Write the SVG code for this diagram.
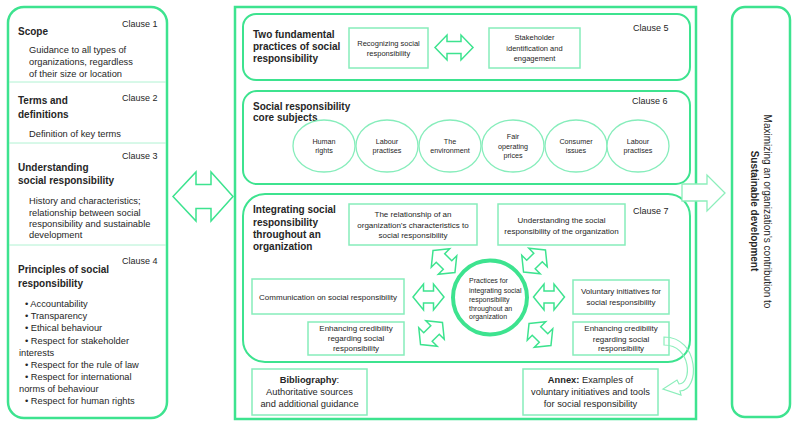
<svg xmlns="http://www.w3.org/2000/svg" xmlns:xlink="http://www.w3.org/1999/xlink" width="800" height="427" viewBox="0 0 800 427">
<style>
.main{fill:none;stroke:#3de38f;stroke-width:2.5}
.cl{fill:none;stroke:#3de38f;stroke-width:2}
.box{fill:#fff;stroke:#86edbb;stroke-width:1.5}
.ell{fill:#fff;stroke:#86edbb;stroke-width:1.3}
.arr{fill:#fff;stroke:#3de38f;stroke-width:1.5}
.thin{fill:none;stroke:#8ceebb;stroke-width:1.2}
.div{stroke:#b0f2d2;stroke-width:1}
text{font-family:"Liberation Sans",Arial,sans-serif;fill:#262626}
.h{font-weight:bold;font-size:10px}
.b{font-size:9.3px}
.c{font-size:9px}
.s{font-size:8px;text-anchor:middle}
.xs{font-size:7.5px;text-anchor:middle}
.e{font-size:7.2px;text-anchor:middle}
.m{text-anchor:middle}
</style>
<defs>
<path id="da" d="M-15.5,0 L-5,-13 L-5,-6 L5,-6 L5,-13 L15.5,0 L5,13 L5,6 L-5,6 L-5,13 Z"/>
</defs>

<g id="left-panel">
<rect class="main" x="8" y="7" width="159" height="411" rx="16"/>
<line class="div" x1="9" y1="82" x2="166" y2="82"/>
<line class="div" x1="9" y1="143" x2="166" y2="143"/>
<line class="div" x1="9" y1="245" x2="166" y2="245"/>
<text class="c" x="122" y="27">Clause 1</text>
<text class="h" x="18" y="35">Scope</text>
<text class="b" x="29" y="53">Guidance to all types  of</text>
<text class="b" x="29" y="65">organizations, regardless</text>
<text class="b" x="29" y="77">of their size or location</text>
<text class="c" x="122" y="101">Clause 2</text>
<text class="h" x="18" y="104">Terms and</text>
<text class="h" x="18" y="118">definitions</text>
<text class="b" x="29" y="137">Definition of key terms</text>
<text class="c" x="122" y="159">Clause 3</text>
<text class="h" x="18" y="171">Understanding</text>
<text class="h" x="18" y="184">social responsibility</text>
<text class="b" x="29" y="204">History and characteristics;</text>
<text class="b" x="29" y="215.5">relationship between social</text>
<text class="b" x="29" y="226.5">responsibility and sustainable</text>
<text class="b" x="29" y="237.5">development</text>
<text class="c" x="122" y="264">Clause 4</text>
<text class="h" x="18" y="273">Principles of social</text>
<text class="h" x="18" y="287">responsibility</text>
<text class="b" x="25" y="307">• Accountability</text>
<text class="b" x="25" y="319">• Transparency</text>
<text class="b" x="25" y="331">• Ethical behaviour</text>
<text class="b" x="25" y="343.5">• Respect for stakeholder</text>
<text class="b" x="19" y="355.5">interests</text>
<text class="b" x="25" y="367.5">• Respect for the rule of law</text>
<text class="b" x="25" y="379.5">• Respect for international</text>
<text class="b" x="19" y="392">norms of behaviour</text>
<text class="b" x="25" y="404">• Respect for human rights</text>
</g>

<g id="center-frame">
<rect class="main" x="235" y="7" width="461" height="412"/>
</g>

<g id="clause5">
<rect class="cl" x="243" y="14" width="447" height="66" rx="13"/>
<text class="h" x="253" y="38">Two fundamental</text>
<text class="h" x="253" y="50">practices  of social</text>
<text class="h" x="253" y="62">responsibility</text>
<text class="c" x="633" y="31">Clause 5</text>
</g>
<g id="recognizing">
<rect class="box" x="349" y="28" width="79" height="40"/>
<text class="xs" x="388.5" y="45.5">Recognizing social</text>
<text class="xs" x="388.5" y="56">responsibility</text>
</g>
<g id="stakeholder">
<rect class="box" x="489" y="28" width="91" height="40"/>
<text class="xs" x="534.5" y="40">Stakeholder</text>
<text class="xs" x="534.5" y="51">identification  and</text>
<text class="xs" x="534.5" y="61">engagement</text>
</g>

<g id="clause6">
<rect class="cl" x="243" y="91" width="447" height="93" rx="14"/>
<text class="h" x="253" y="110">Social responsibility</text>
<text class="h" x="253" y="121">core subjects</text>
<text class="c" x="632" y="104">Clause 6</text>
</g>
<g id="cs-human-rights"><ellipse class="ell" cx="324" cy="146" rx="31" ry="26"/><text class="e" x="324" y="144">Human</text><text class="e" x="324" y="153">rights</text></g>
<g id="cs-labour1"><ellipse class="ell" cx="387" cy="146" rx="31" ry="26"/><text class="e" x="387" y="144">Labour</text><text class="e" x="387" y="153">practises</text></g>
<g id="cs-environment"><ellipse class="ell" cx="450" cy="146" rx="31" ry="26"/><text class="e" x="450" y="144">The</text><text class="e" x="450" y="153">environment</text></g>
<g id="cs-fair"><ellipse class="ell" cx="513" cy="146" rx="31" ry="26"/><text class="e" x="513" y="139">Fair</text><text class="e" x="513" y="149">operating</text><text class="e" x="513" y="158">prices</text></g>
<g id="cs-consumer"><ellipse class="ell" cx="576" cy="146" rx="31" ry="26"/><text class="e" x="576" y="144">Consumer</text><text class="e" x="576" y="153">issues</text></g>
<g id="cs-labour2"><ellipse class="ell" cx="638" cy="146" rx="31" ry="26"/><text class="e" x="638" y="144">Labour</text><text class="e" x="638" y="153">practises</text></g>

<g id="clause7">
<rect class="cl" x="243" y="194" width="447" height="168" rx="22"/>
<text class="h" x="253" y="213">Integrating social</text>
<text class="h" x="253" y="226">responsibility</text>
<text class="h" x="253" y="238">throughout an</text>
<text class="h" x="253" y="250">organization</text>
<text class="c" x="633" y="214">Clause 7</text>
</g>
<g id="relationship">
<rect class="box" x="349" y="204" width="128" height="41"/>
<text class="s" x="413" y="217">The relationship of an</text>
<text class="s" x="413" y="227.5">organization’s characteristics to</text>
<text class="s" x="413" y="238">social responsibility</text>
</g>
<g id="understanding">
<rect class="box" x="498" y="204" width="127" height="41"/>
<text class="s" x="561.5" y="223">Understanding the social</text>
<text class="s" x="561.5" y="233.5">responsibility of the organization</text>
</g>
<g id="communication">
<rect class="box" x="252" y="279" width="152" height="35"/>
<text class="s" x="328" y="299.5">Communication on social responsibility</text>
</g>
<g id="enhancing-left">
<rect class="box" x="308" y="322" width="96" height="33"/>
<text class="s" x="356" y="330.5">Enhancing credibility</text>
<text class="s" x="356" y="341">regarding social</text>
<text class="s" x="356" y="351">responsibility</text>
</g>
<g id="voluntary">
<rect class="box" x="573" y="280" width="96" height="34"/>
<text class="s" x="621" y="294">Voluntary initiatives  for</text>
<text class="s" x="621" y="305">social responsibility</text>
</g>
<g id="enhancing-right">
<rect class="box" x="573" y="322" width="96" height="33"/>
<text class="s" x="621" y="331">Enhancing credibility</text>
<text class="s" x="621" y="341.5">regarding social</text>
<text class="s" x="621" y="351">responsibility</text>
</g>
<g id="practices">
<circle cx="490" cy="297.5" r="37" fill="#fff" stroke="#3de38f" stroke-width="4"/>
<text x="469" y="283" font-size="7px">Practices for</text>
<text x="469" y="293" font-size="7px">integrating social</text>
<text x="469" y="301.5" font-size="7px">responsibility</text>
<text x="469" y="310.5" font-size="7px">throughout an</text>
<text x="469" y="319" font-size="7px">organization</text>
</g>

<g id="bibliography">
<rect class="box" x="252" y="369" width="115" height="46"/>
<text class="b m" x="309.5" y="383"><tspan font-weight="bold">Bibliography</tspan>:</text>
<text class="b m" x="309.5" y="395">Authoritative sources</text>
<text class="b m" x="309.5" y="406.5">and additional guidance</text>
</g>
<g id="annex">
<rect class="box" x="523" y="369" width="135" height="46"/>
<text class="b m" x="590.5" y="383"><tspan font-weight="bold">Annex:</tspan> Examples of</text>
<text class="b m" x="590.5" y="395">voluntary initiatives and tools</text>
<text class="b m" x="590.5" y="406.5">for social responsibility</text>
</g>

<g id="right-panel">
<rect class="main" x="732" y="7" width="58" height="410" rx="13"/>
<text class="m" font-size="10px" transform="translate(764,211.5) rotate(90)">Maximizing an organization’s contribution to</text>
<text class="m h" transform="translate(751,211) rotate(90)">Sustainable development</text>
</g>

<g id="connectors">
<path class="arr" d="M173,196.5 L196,172 L196,184.5 L211,184.5 L211,172 L233,196.5 L211,221 L211,208.5 L196,208.5 L196,221 Z"/>
<path class="arr" stroke="#6fe8ad" d="M435,47.5 L447,35 L447,41.5 L461,41.5 L461,35 L473,47.5 L461,60 L461,53.5 L447,53.5 L447,60 Z"/>
<path fill="#fff" stroke="#8ceebb" stroke-width="1.3" d="M682,184 L707,184 L707,175 L725,193 L707,211 L707,201 L682,201 Z"/>
<use href="#da" class="arr" transform="translate(428.5,297)"/>
<use href="#da" class="arr" transform="translate(549,297)"/>
<use href="#da" class="arr" transform="translate(444,261.5) rotate(45)"/>
<use href="#da" class="arr" transform="translate(534.5,261) rotate(-45)"/>
<use href="#da" class="arr" transform="translate(431.5,333.5) rotate(-45)"/>
<use href="#da" class="arr" transform="translate(540,334.5) rotate(45)"/>
<path class="thin" d="M664,337 C700,337 700,391 680,391 L681,395 L663,389 L677,380 L679,384 C692,384 692,345 664,345 Z"/>
</g>
</svg>
